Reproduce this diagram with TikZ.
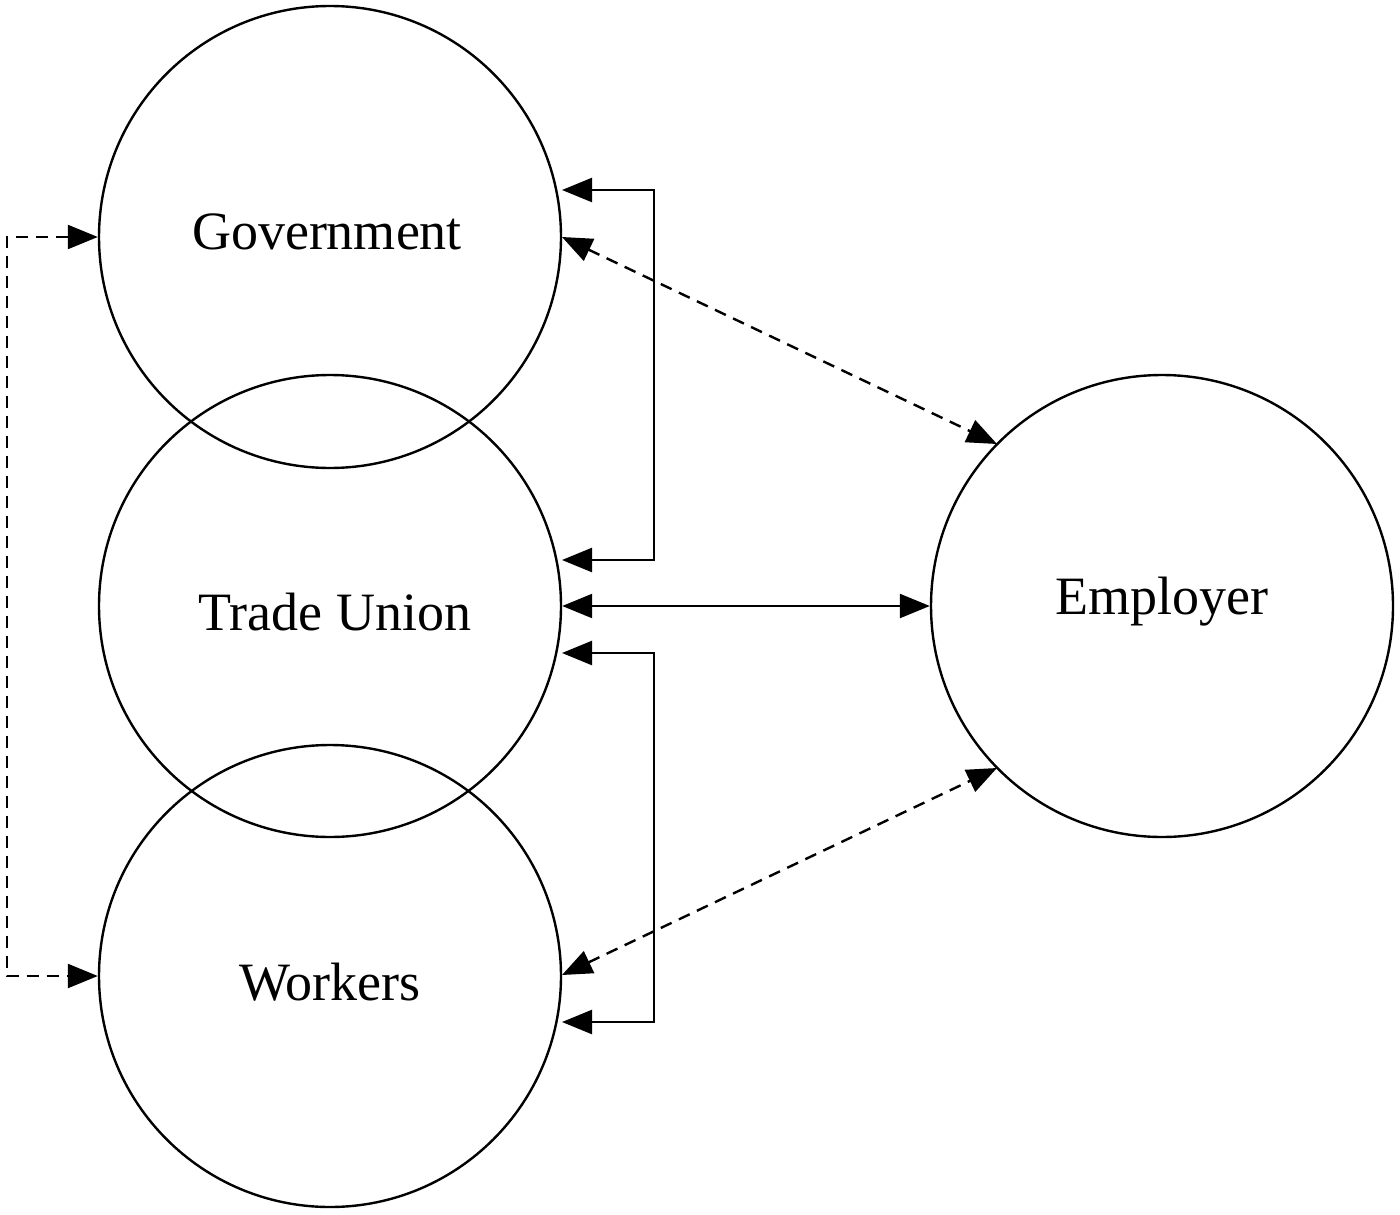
\documentclass[tikz,border=0pt]{standalone}
\usepackage{fontspec}
\setmainfont{Liberation Serif}
\usetikzlibrary{arrows.meta}
\begin{document}
\begin{tikzpicture}[x=1pt,y=-1pt,
  circ/.style={draw,circle,line width=2.4pt,minimum size=462pt,inner sep=0pt},
  lbl/.style={font=\fontsize{54}{56}\selectfont},
  conn/.style={line width=2.4pt,{Triangle[length=30pt,width=24pt]}-{Triangle[length=30pt,width=24pt]}},
  dashline/.style={dash pattern=on 12pt off 8pt}]
\useasboundingbox (0,0) rectangle (1400,1215);
\node[circ] (gov) at (330,237) {};
\node[circ] (tu) at (330,606) {};
\node[circ] (wk) at (330,976) {};
\node[circ] (emp) at (1162,606) {};
\node[lbl] (govt) at (327,232) {Government};
\node[lbl] (tut) at (335,612) {Trade Union};
\node[lbl] (wkt) at (330,982) {Workers};
\node[lbl] (empt) at (1162,602) {Employer};
\coordinate (g1) at (562,190); \coordinate (t1) at (562,560);
\coordinate (t2) at (562,653); \coordinate (w1) at (562,1022);
\draw[conn] (g1) -- (654,190) -- (654,560) -- (t1);
\draw[conn] (t2) -- (654,653) -- (654,1022) -- (w1);
\draw[conn] (tu.east) -- (emp.west);
\draw[conn,dashline] (562,237) -- (997,444);
\draw[conn,dashline] (562,975) -- (997,768);
\draw[conn,dashline] (gov.west) -- (7,237) -- (7,976) -- (wk.west);
\end{tikzpicture}
\end{document}
